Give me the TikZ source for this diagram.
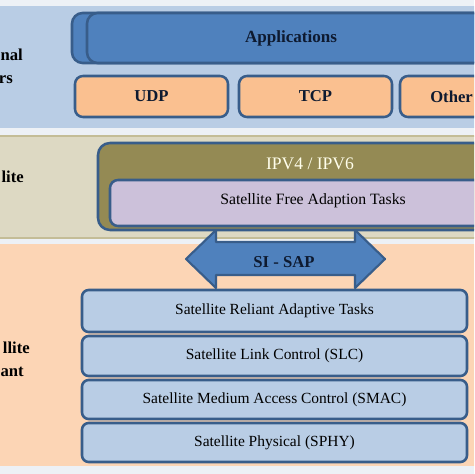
\documentclass[tikz,border=0pt]{standalone}
\usepackage{fontspec}
\setmainfont{Liberation Serif}

\definecolor{pagegray}{HTML}{EDF1F6}
\definecolor{bandblue}{HTML}{B9CDE5}
\definecolor{bandbeige}{HTML}{DDD9C3}
\definecolor{bandtan}{HTML}{C4BD97}
\definecolor{bandpeach}{HTML}{FCD5B5}
\definecolor{boxblue}{HTML}{4F81BD}
\definecolor{boxline}{HTML}{385D8A}
\definecolor{boxorange}{HTML}{FAC090}
\definecolor{boxolive}{HTML}{948A54}
\definecolor{boxlilac}{HTML}{CCC1DA}
\definecolor{inkdark}{HTML}{0E1A30}

\tikzset{
  layerbox/.style={draw=boxline, line width=1.9pt, rounded corners=5pt,
    fill=bandblue, minimum width=288.75pt, font=\fontsize{11.6}{13}\selectfont},
  protobox/.style={draw=boxline, line width=1.9pt, rounded corners=6pt,
    fill=boxorange, minimum width=114.75pt, minimum height=30.75pt,
    font=\fontsize{12.5}{14}\selectfont\bfseries, text=inkdark},
  sidelabel/.style={anchor=east, inner sep=0pt, font=\fontsize{12.5}{14}\selectfont\bfseries},
}

\begin{document}
\begin{tikzpicture}[x=0.75pt,y=-0.75pt]
  \useasboundingbox (0,0) rectangle (474,474);
  \clip (0,0) rectangle (474,474);

  % Bands
  \fill[pagegray] (0,0) rectangle (474,474);
  \fill[bandblue] (-5,6) rectangle (480,128);
  \filldraw[fill=bandbeige, draw=bandtan, line width=1.5pt] (-5,136) rectangle (480,238);
  \fill[bandpeach] (-5,244) rectangle (480,466);

  % Side labels
  \node[sidelabel] (extA) at (23,55) {nal};
  \node[sidelabel] (extB) at (13,80) {rs};
  \node[sidelabel] (indep) at (24,177) {lite};
  \node[sidelabel] (depA) at (30,348) {llite};
  \node[sidelabel] (depB) at (24,372) {ant};

  % Applications
  \filldraw[fill=boxblue, draw=boxline, line width=1.9pt, rounded corners=8pt]
    (72,13) rectangle (520,63);
  \filldraw[fill=boxblue, draw=boxline, line width=1.9pt, rounded corners=8pt]
    (87,13) rectangle (520,63);
  \node[font=\fontsize{12.8}{14}\selectfont\bfseries, text=inkdark] (apps) at (291,38) {Applications};

  % Transport
  \node[protobox] (udp) at (151.5,96.5) {UDP};
  \node[protobox] (tcp) at (315.5,96.5) {TCP};
  \filldraw[fill=boxorange, draw=boxline, line width=1.9pt, rounded corners=6pt]
    (400,76) rectangle (540,117);
  \node[font=\fontsize{12.5}{14}\selectfont\bfseries, text=inkdark, anchor=west, inner sep=0pt]
    (other) at (430,96.5) {Other};

  % Network
  \filldraw[fill=boxolive, draw=boxline, line width=1.9pt, rounded corners=9pt]
    (98,143) rectangle (530,230);
  \filldraw[fill=boxlilac, draw=boxline, line width=1.9pt, rounded corners=6pt]
    (110,180) rectangle (530,226);
  \node[font=\fontsize{13.2}{15}\selectfont, text=white!92!yellow] (ipv) at (310,164) {IPV4 / IPV6};
  \node[font=\fontsize{11.8}{13}\selectfont] (freetasks) at (313,201) {Satellite Free Adaption Tasks};

  % SI-SAP
  \filldraw[fill=boxblue, draw=boxline, line width=1.6pt, line join=round]
    (186,259) -- (216,230) -- (216,242) -- (355,242) -- (355,230) -- (385,259)
    -- (355,288) -- (355,275) -- (216,275) -- (216,288) -- cycle;
  \node[font=\fontsize{12.5}{14}\selectfont\bfseries, text=inkdark] (sisap) at (284,262) {SI - SAP};

  % Dependent layers
  \node[layerbox, minimum height=31.5pt] (reliant) at (274.5,311) {Satellite Reliant Adaptive Tasks};
  \node[layerbox, minimum height=30pt] (slc) at (274.5,356) {Satellite Link Control (SLC)};
  \node[layerbox, minimum height=29.25pt] (smac) at (274.5,399.5) {Satellite Medium Access Control (SMAC)};
  \node[layerbox, minimum height=29.25pt] (sphy) at (274.5,442.5) {Satellite Physical (SPHY)};
\end{tikzpicture}
\end{document}
